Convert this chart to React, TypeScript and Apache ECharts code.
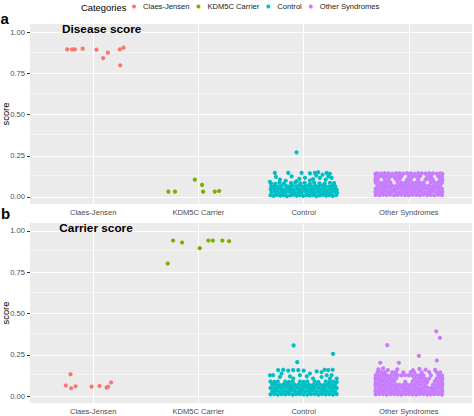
import React, { useEffect, useRef } from "react";
import * as echarts from "echarts";

const categories = ["Claes-Jensen", "KDM5C Carrier", "Control", "Other Syndromes"];
const colors = ["#F8766D", "#7CAE00", "#00BFC4", "#C77CFF"];
const yTicks = [0, 0.25, 0.5, 0.75, 1];
const yMinor = [0.125, 0.375, 0.625, 0.875];
// category slots on the x scale (each slot is 10 units wide, 6 units of padding at each end)
const catPositions = [6, 16, 26, 36];

// Panel a: Disease score — [jitter offset from category (fraction of slot), score]
const claesA = [[-0.247,0.897],[-0.2,0.897],[-0.174,0.897],[-0.1,0.901],[0.032,0.895],[0.095,0.844],[0.14,0.877],[0.254,0.897],[0.289,0.907],[0.257,0.8]];
const kdm5cA = [[-0.285,0.032],[-0.222,0.032],[-0.034,0.105],[0.035,0.073],[0.045,0.032],[0.156,0.032],[0.197,0.036]];
const controlA = [
[-0.315,0.01],[-0.284,0.006],[-0.253,0.012],[-0.221,0.008],[-0.19,0.011],[-0.159,0.005],[-0.128,0.009],[-0.097,0.013],[-0.066,0.007],[-0.035,0.01],[-0.004,0.006],[0.027,0.012],[0.058,0.008],[0.09,0.011],[0.121,0.005],[0.152,0.009],[0.183,0.013],[0.214,0.007],[0.245,0.01],[0.276,0.006],[0.31,0.011],
[-0.305,0.028],[-0.272,0.031],[-0.24,0.025],[-0.207,0.029],[-0.175,0.026],[-0.143,0.032],[-0.112,0.027],[-0.081,0.024],[-0.05,0.03],[-0.019,0.028],[0.012,0.033],[0.043,0.026],[0.074,0.029],[0.106,0.025],[0.137,0.031],[0.168,0.027],[0.199,0.03],[0.23,0.024],[0.261,0.028],[0.292,0.032],[0.318,0.026],
[-0.312,0.046],[-0.28,0.049],[-0.25,0.044],[-0.218,0.048],[-0.186,0.045],[-0.155,0.05],[-0.124,0.047],[-0.093,0.043],[-0.061,0.049],[-0.03,0.046],[0.0,0.051],[0.032,0.044],[0.063,0.048],[0.094,0.045],[0.126,0.05],[0.157,0.046],[0.188,0.049],[0.219,0.043],[0.25,0.047],[0.282,0.05],[0.314,0.045],
[-0.308,0.064],[-0.275,0.068],[-0.244,0.062],[-0.21,0.066],[-0.17,0.069],[-0.138,0.063],[-0.105,0.067],[-0.07,0.065],[-0.04,0.07],[-0.01,0.062],[0.02,0.066],[0.05,0.068],[0.083,0.063],[0.112,0.067],[0.145,0.064],[0.178,0.069],[0.205,0.065],[0.238,0.062],[0.27,0.067],[0.3,0.064],
[-0.31,0.083],[-0.27,0.08],[-0.23,0.086],[-0.19,0.081],[-0.12,0.084],[-0.08,0.088],[-0.03,0.082],[0.01,0.085],[0.06,0.08],[0.1,0.087],[0.15,0.083],[0.2,0.081],[0.25,0.086],[0.29,0.084],
[-0.273,0.146],[-0.263,0.122],[-0.146,0.146],[-0.114,0.125],[-0.019,0.146],[0.06,0.143],[0.107,0.146],[0.139,0.15],[0.219,0.146],[0.25,0.141],[0.013,0.116],[0.155,0.116],[0.21,0.105],[-0.225,0.105],[-0.067,0.095],[0.06,0.1],[0.266,0.116],[-0.32,0.092],[0.12,0.13],[0.18,0.135],[-0.17,0.098],[0.09,0.108],[-0.04,0.11],[0.235,0.125],
[-0.067,0.271]
];
const otherA = [
[-0.315,0.012],[-0.28,0.01],[-0.245,0.013],[-0.21,0.011],[-0.175,0.014],[-0.14,0.01],[-0.105,0.012],[-0.07,0.013],[-0.035,0.011],[0.0,0.01],[0.035,0.013],[0.07,0.012],[0.105,0.01],[0.14,0.014],[0.175,0.011],[0.21,0.012],[0.245,0.01],[0.28,0.013],[0.315,0.011],
[-0.318,0.03],[-0.298,0.031],[-0.263,0.03],[-0.228,0.032],[-0.193,0.03],[-0.158,0.033],[-0.122,0.031],[-0.088,0.029],[-0.052,0.032],[-0.017,0.03],[0.018,0.031],[0.052,0.033],[0.088,0.03],[0.122,0.032],[0.158,0.029],[0.193,0.031],[0.228,0.033],[0.263,0.03],[0.298,0.032],[0.318,0.03],
[-0.315,0.05],[-0.28,0.051],[-0.245,0.049],[-0.21,0.052],[-0.175,0.05],[-0.14,0.048],[-0.105,0.051],[-0.07,0.05],[-0.035,0.052],[0.0,0.049],[0.035,0.05],[0.07,0.051],[0.105,0.049],[0.14,0.052],[0.175,0.05],[0.21,0.048],[0.245,0.051],[0.28,0.05],[0.315,0.049],
[-0.298,0.068],[-0.263,0.07],[-0.228,0.067],[-0.193,0.069],[-0.158,0.068],[-0.122,0.066],[-0.088,0.069],[-0.052,0.068],[-0.017,0.07],[0.018,0.067],[0.052,0.068],[0.088,0.07],[0.122,0.067],[0.158,0.069],[0.193,0.068],[0.228,0.066],[0.263,0.069],[0.298,0.068],
[-0.315,0.087],[-0.28,0.088],[-0.245,0.086],[-0.21,0.089],[-0.175,0.087],[-0.105,0.088],[-0.07,0.086],[-0.035,0.087],[0.0,0.089],[0.035,0.086],[0.07,0.088],[0.105,0.087],[0.14,0.085],[0.21,0.088],[0.245,0.087],[0.28,0.089],[0.315,0.086],
[-0.318,0.105],[-0.298,0.106],[-0.228,0.107],[-0.193,0.105],[-0.122,0.106],[-0.088,0.108],[-0.017,0.105],[0.018,0.107],[0.088,0.106],[0.158,0.105],[0.193,0.107],[0.228,0.106],[0.298,0.105],[0.318,0.104],
[-0.315,0.124],[-0.28,0.125],[-0.245,0.123],[-0.21,0.126],[-0.175,0.124],[-0.14,0.122],[-0.105,0.125],[-0.07,0.124],[0.0,0.126],[0.035,0.123],[0.07,0.124],[0.105,0.125],[0.175,0.123],[0.21,0.125],[0.28,0.124],[0.315,0.122],
[-0.318,0.141],[-0.298,0.143],[-0.263,0.142],[-0.228,0.144],[-0.193,0.143],[-0.158,0.141],[-0.122,0.144],[-0.088,0.143],[-0.052,0.142],[-0.017,0.144],[0.018,0.143],[0.052,0.141],[0.088,0.144],[0.122,0.143],[0.158,0.142],[0.193,0.144],[0.228,0.143],[0.263,0.141],[0.298,0.143],[0.318,0.14]
];

// Panel b: Carrier score
const claesB = [[-0.26,0.065],[-0.215,0.133],[-0.209,0.048],[-0.167,0.06],[-0.015,0.058],[0.061,0.062],[0.127,0.052],[0.143,0.057],[0.171,0.083]];
const kdm5cB = [[-0.291,0.802],[-0.24,0.941],[-0.155,0.929],[0.013,0.895],[0.095,0.941],[0.137,0.941],[0.228,0.941],[0.292,0.937]];
const controlB = [
[-0.315,0.011],[-0.28,0.013],[-0.245,0.01],[-0.21,0.012],[-0.175,0.011],[-0.14,0.014],[-0.105,0.01],[-0.07,0.012],[-0.035,0.013],[0.0,0.011],[0.035,0.01],[0.07,0.013],[0.105,0.012],[0.14,0.01],[0.175,0.013],[0.21,0.011],[0.245,0.012],[0.28,0.01],[0.315,0.013],
[-0.298,0.03],[-0.263,0.032],[-0.228,0.029],[-0.193,0.031],[-0.158,0.03],[-0.122,0.033],[-0.088,0.031],[-0.052,0.029],[-0.017,0.032],[0.018,0.03],[0.052,0.031],[0.088,0.033],[0.122,0.029],[0.158,0.031],[0.193,0.032],[0.228,0.03],[0.263,0.031],[0.298,0.029],
[-0.315,0.05],[-0.28,0.049],[-0.245,0.051],[-0.21,0.05],[-0.175,0.052],[-0.14,0.049],[-0.105,0.05],[-0.07,0.051],[-0.035,0.048],[0.0,0.05],[0.035,0.052],[0.07,0.049],[0.105,0.05],[0.14,0.051],[0.175,0.049],[0.21,0.05],[0.245,0.052],[0.28,0.049],[0.315,0.05],
[-0.298,0.069],[-0.263,0.07],[-0.228,0.068],[-0.193,0.07],[-0.158,0.069],[-0.122,0.067],[-0.088,0.07],[-0.052,0.069],[-0.017,0.068],[0.018,0.07],[0.052,0.069],[0.088,0.067],[0.122,0.07],[0.158,0.069],[0.193,0.068],[0.228,0.07],[0.263,0.069],[0.298,0.068],
[-0.315,0.088],[-0.28,0.087],[-0.245,0.089],[-0.175,0.088],[-0.14,0.086],[-0.105,0.089],[-0.035,0.088],[0.0,0.087],[0.035,0.089],[0.105,0.088],[0.14,0.086],[0.21,0.089],[0.245,0.087],[0.28,0.088],[0.315,0.086],
[-0.29,0.127],[-0.242,0.158],[-0.194,0.16],[-0.146,0.155],[-0.099,0.158],[-0.051,0.158],[0.0,0.155],[-0.035,0.127],[0.06,0.137],[0.124,0.15],[0.171,0.145],[0.2,0.16],[0.234,0.158],[0.276,0.16],[0.266,0.127],[0.314,0.107],[-0.32,0.127],[-0.225,0.116],[-0.13,0.12],[0.03,0.12],[0.171,0.116],[-0.099,0.107],[-0.21,0.137],[0.09,0.107],[0.219,0.127],[0.25,0.107],
[-0.095,0.307],[0.279,0.256],[-0.061,0.206]
];
const otherB = [
[-0.315,0.011],[-0.28,0.013],[-0.245,0.012],[-0.21,0.01],[-0.175,0.012],[-0.14,0.013],[-0.105,0.011],[-0.07,0.01],[-0.035,0.012],[0.0,0.013],[0.035,0.011],[0.07,0.01],[0.105,0.013],[0.14,0.012],[0.175,0.01],[0.21,0.011],[0.245,0.013],[0.28,0.012],[0.315,0.01],
[-0.318,0.031],[-0.298,0.03],[-0.263,0.032],[-0.228,0.031],[-0.193,0.029],[-0.158,0.031],[-0.122,0.032],[-0.088,0.03],[-0.052,0.031],[-0.017,0.033],[0.018,0.03],[0.052,0.031],[0.088,0.029],[0.122,0.032],[0.158,0.031],[0.193,0.03],[0.228,0.032],[0.263,0.031],[0.298,0.03],[0.318,0.031],
[-0.315,0.049],[-0.28,0.05],[-0.245,0.052],[-0.21,0.049],[-0.175,0.05],[-0.14,0.051],[-0.105,0.049],[-0.07,0.052],[-0.035,0.05],[0.0,0.049],[0.035,0.051],[0.07,0.05],[0.105,0.048],[0.14,0.05],[0.175,0.052],[0.21,0.049],[0.245,0.05],[0.28,0.051],[0.315,0.049],
[-0.318,0.069],[-0.298,0.069],[-0.263,0.068],[-0.228,0.07],[-0.193,0.069],[-0.158,0.067],[-0.122,0.07],[-0.088,0.069],[-0.052,0.068],[-0.017,0.07],[0.018,0.069],[0.052,0.067],[0.088,0.07],[0.122,0.069],[0.158,0.068],[0.228,0.069],[0.263,0.07],[0.298,0.068],[0.318,0.07],
[-0.315,0.088],[-0.28,0.087],[-0.245,0.089],[-0.21,0.088],[-0.175,0.086],[-0.14,0.089],[-0.035,0.087],[0.035,0.088],[0.07,0.086],[0.105,0.089],[0.14,0.088],[0.175,0.087],[0.245,0.089],[0.28,0.086],[0.315,0.088],
[-0.318,0.107],[-0.298,0.107],[-0.263,0.106],[-0.228,0.108],[-0.193,0.107],[-0.158,0.105],[-0.122,0.108],[0.052,0.106],[0.088,0.107],[0.122,0.108],[0.158,0.105],[0.193,0.107],[0.263,0.106],[0.298,0.108],[0.318,0.106],
[-0.315,0.126],[-0.28,0.125],[-0.245,0.127],[-0.21,0.126],[-0.175,0.124],[-0.14,0.127],[-0.105,0.126],[-0.07,0.125],[-0.035,0.127],[0.0,0.126],[0.035,0.124],[0.07,0.127],[0.105,0.126],[0.14,0.125],[0.21,0.126],[0.28,0.127],[0.315,0.125],
[-0.298,0.145],[-0.263,0.146],[-0.228,0.144],[-0.158,0.145],[-0.122,0.147],[-0.052,0.144],[0.018,0.146],[0.052,0.145],[0.122,0.144],[0.193,0.146],[0.263,0.145],[0.298,0.144],
[-0.29,0.162],[-0.2,0.158],[-0.11,0.163],[0.04,0.157],[0.16,0.16],[0.25,0.159],[-0.245,0.168],[0.1,0.165],
[0.26,0.392],[0.295,0.353],[-0.205,0.309],[0.095,0.244],[0.266,0.216],[-0.272,0.202],[-0.095,0.202]
];

const panelA = [claesA, kdm5cA, controlA, otherA];
const panelB = [claesB, kdm5cB, controlB, otherB];

const FONT = "'Liberation Sans', Arial, Helvetica, sans-serif";

export default function App() {
  const ref = useRef<HTMLDivElement>(null);
  useEffect(() => {
    if (!ref.current) return;
    const chart = echarts.init(ref.current, null, { renderer: "svg" });

    const grids = [
      { left: 30, top: 24, width: 442, height: 180 },
      { left: 30, top: 223, width: 442, height: 180 },
    ];
    const yRanges = [
      [-0.043, 1.051],
      [-0.041, 1.047],
    ];

    const xAxes = grids.map((_, i) => ({
      type: "value",
      gridIndex: i,
      min: 0,
      max: 42,
      axisLine: { show: false },
      splitLine: { show: false },
      axisTick: { show: true, length: 3, customValues: catPositions, lineStyle: { color: "#333333", width: 1 } },
      axisLabel: {
        customValues: catPositions,
        margin: 4,
        fontSize: 7.6,
        color: "#4D4D4D",
        fontFamily: FONT,
        formatter: (v: number) => categories[catPositions.indexOf(Math.round(v))] ?? "",
      },
    }));

    const yAxes = grids.map((_, i) => ({
      type: "value",
      gridIndex: i,
      min: yRanges[i][0],
      max: yRanges[i][1],
      name: "score",
      nameLocation: "middle",
      nameGap: 19.5,
      nameMoveOverlap: false,
      nameTextStyle: { fontSize: 9.4, lineHeight: 10, color: "#000", fontFamily: FONT },
      axisLine: { show: false },
      splitLine: { show: false },
      axisTick: { show: true, length: 3, customValues: yTicks, lineStyle: { color: "#333333", width: 1 } },
      axisLabel: {
        customValues: yTicks,
        margin: 5,
        fontSize: 7.6,
        color: "#4D4D4D",
        fontFamily: FONT,
        formatter: (v: number) => v.toFixed(2),
      },
    }));

    const gridLineSeries = grids.map((_, i) => ({
      type: "scatter",
      xAxisIndex: i,
      yAxisIndex: i,
      data: [[catPositions[0], 0]],
      symbolSize: 0,
      silent: true,
      z: 1,
      markLine: {
        silent: true,
        z: 1,
        symbol: ["none", "none"],
        label: { show: false },
        animation: false,
        lineStyle: { color: "#ffffff", type: "solid", width: 1.1 },
        data: [
          ...yMinor.map((v) => ({ yAxis: v, lineStyle: { color: "#ffffff", type: "solid", width: 0.5 } })),
          ...yTicks.map((v) => ({ yAxis: v, lineStyle: { color: "#ffffff", type: "solid", width: 1.1 } })),
          ...catPositions.map((v) => ({ xAxis: v, lineStyle: { color: "#ffffff", type: "solid", width: 1.1 } })),
        ],
      },
    }));

    const pointSeries: any[] = [];
    [panelA, panelB].forEach((panel, p) => {
      panel.forEach((pts, c) => {
        pointSeries.push({
          type: "scatter",
          name: categories[c],
          xAxisIndex: p,
          yAxisIndex: p,
          symbol: "circle",
          symbolSize: 4.2,
          silent: true,
          z: 3,
          itemStyle: { color: colors[c], opacity: 1 },
          data: pts.map(([dx, y]) => [catPositions[c] + dx * 10, y]),
        });
      });
    });

    chart.setOption({
      animation: false,
      grid: grids.map((g) => ({ ...g, show: true, backgroundColor: "#EBEBEB", borderWidth: 0, outerBoundsMode: "none", containLabel: false })),
      xAxis: xAxes,
      yAxis: yAxes,
      legend: {
        data: categories,
        left: 132,
        top: 2.5,
        padding: 0,
        icon: "circle",
        itemWidth: 8,
        itemHeight: 4,
        itemGap: 7,
        selectedMode: false,
        textStyle: { fontSize: 7.6, color: "#1A1A1A", fontFamily: FONT },
      },
      graphic: [
        { type: "text", x: 81, y: 7, style: { text: "Categories", font: `9.4px ${FONT}`, fill: "#000", verticalAlign: "middle" } },
        { type: "text", x: 0.5, y: 18.8, style: { text: "a", font: `bold 15px ${FONT}`, fill: "#000", verticalAlign: "middle" } },
        { type: "text", x: 1, y: 213, style: { text: "b", font: `bold 15px ${FONT}`, fill: "#000", verticalAlign: "middle" } },
        { type: "text", x: 62, y: 28.7, z: 10, style: { text: "Disease score", font: `bold 11.8px ${FONT}`, fill: "#000", verticalAlign: "middle" } },
        { type: "text", x: 59.3, y: 227.5, z: 10, style: { text: "Carrier score", font: `bold 11.8px ${FONT}`, fill: "#000", verticalAlign: "middle" } },
      ],
      series: [...gridLineSeries, ...pointSeries],
    });
    return () => chart.dispose();
  }, []);
  return <div ref={ref} style={{ position: "fixed", left: 0, top: 0, width: 474, height: 416, background: "#fff" }} />;
}
